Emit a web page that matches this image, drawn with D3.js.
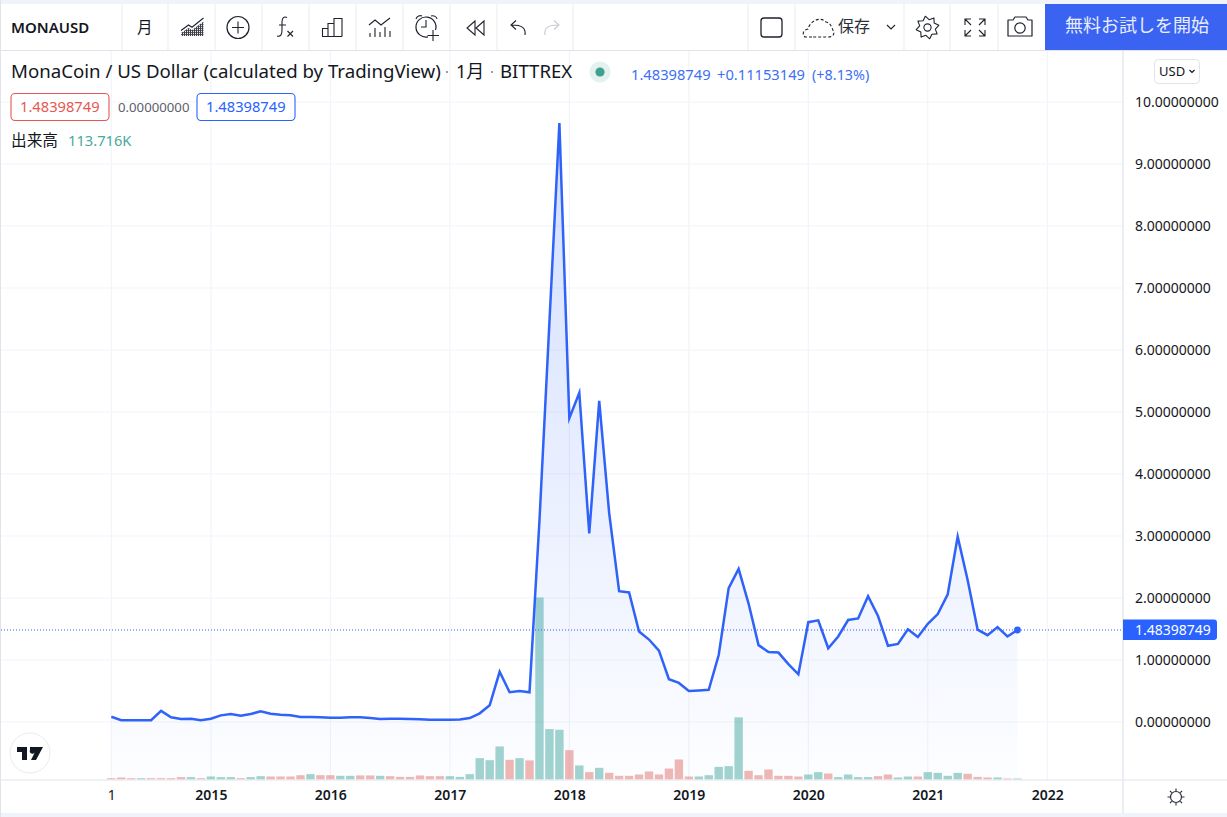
<!DOCTYPE html>
<html>
<head>
<meta charset="utf-8">
<style>
  html, body { margin: 0; padding: 0; background: #fff; overflow: hidden; }
  svg { display: block; }
  text { font-family: "Noto Sans", "Noto Sans CJK JP", sans-serif; }
</style>
<script src="https://cdnjs.cloudflare.com/ajax/libs/d3/7.8.5/d3.min.js"></script>
</head>
<body>
<div id="chart"></div>
<script>
// monthly closes, Mar 2014 .. Oct 2021
const closes = [
  0.085, 0.03, 0.03, 0.03, 0.03, 0.18, 0.075, 0.048, 0.053, 0.03,
  0.053, 0.107, 0.129, 0.10, 0.129, 0.172, 0.134, 0.118, 0.107, 0.08,
  0.08, 0.075, 0.07, 0.07, 0.075, 0.075, 0.065, 0.05, 0.053, 0.053,
  0.05, 0.043, 0.038, 0.036, 0.035, 0.04, 0.064, 0.14, 0.27, 0.81,
  0.48, 0.50, 0.48, 3.25, 6.45, 9.66, 4.90, 5.31, 3.04, 5.18,
  3.37, 2.11, 2.09, 1.46, 1.33, 1.15, 0.69, 0.63, 0.50, 0.51,
  0.52, 1.08, 2.16, 2.47, 1.91, 1.24, 1.13, 1.12, 0.935, 0.77,
  1.61, 1.64, 1.19, 1.38, 1.645, 1.67, 2.03, 1.71, 1.23, 1.26,
  1.495, 1.37, 1.585, 1.74, 2.06, 2.99, 2.29, 1.49, 1.40, 1.53,
  1.38, 1.48398749
];

// volume in thousands
const volumes = [
  150, 230, 150, 150, 150, 150, 150, 270, 270, 150,
  340, 270, 270, 150, 270, 380, 340, 340, 340, 490,
  610, 490, 490, 420, 420, 460, 460, 420, 380, 300,
  300, 460, 380, 380, 380, 300, 610, 2430, 2200, 3760,
  2240, 2430, 2170, 20710, 5740, 5660, 3340, 1600, 840, 1330,
  760, 420, 420, 570, 910, 570, 1250, 2280, 340, 340,
  490, 1440, 1520, 7070, 990, 490, 1140, 420, 420, 340,
  570, 840, 680, 270, 570, 270, 270, 380, 570, 230,
  340, 340, 840, 760, 420, 760, 650, 300, 230, 230,
  114, 114
];

// 1 = green bar, 0 = red bar
const volumeUp = [
  0, 0, 0, 1, 0, 0, 0, 0, 1, 0,
  1, 1, 1, 0, 1, 1, 0, 0, 0, 0,
  1, 0, 0, 1, 1, 0, 0, 1, 0, 0,
  0, 0, 0, 0, 1, 1, 1, 1, 1, 1,
  0, 1, 0, 1, 1, 1, 0, 1, 0, 1,
  0, 0, 0, 0, 0, 0, 0, 0, 0, 1,
  1, 1, 1, 1, 0, 0, 0, 0, 0, 0,
  1, 1, 0, 1, 1, 1, 1, 0, 0, 1,
  1, 0, 1, 1, 1, 1, 0, 0, 0, 1,
  0, 1
];

const priceTicks = [0, 1, 2, 3, 4, 5, 6, 7, 8, 9, 10];
const timeTicks = [0, 10, 22, 34, 46, 58, 70, 82, 94];
const timeLabels = ["1", "2015", "2016", "2017", "2018", "2019", "2020", "2021", "2022"];
const lastLabel = "1.48398749";

const width = 1227, height = 817;
const paneRight = 1123, paneTop = 51, paneBottom = 780;
const BLUE = "#2962ff", INK = "#131722", GRID = "#f2f4f9", RULE = "#e0e3eb";

const svg = d3.select("#chart").append("svg")
  .attr("width", width).attr("height", height)
  .attr("viewBox", `0 0 ${width} ${height}`);

const x = d3.scaleLinear().domain([0, 94]).range([111.3, 1047.3]);
const y = d3.scaleLinear().domain([0, 10]).range([722, 102]);
const yVol = d3.scaleLinear().domain([0, 20710]).range([779.5, 597.5]);

const defs = svg.append("defs");
const grad = defs.append("linearGradient").attr("id", "areaFill")
  .attr("gradientUnits", "userSpaceOnUse")
  .attr("x1", 0).attr("x2", 0).attr("y1", y(9.66)).attr("y2", paneBottom);
grad.append("stop").attr("offset", 0).attr("stop-color", BLUE).attr("stop-opacity", 0.21);
grad.append("stop").attr("offset", 1).attr("stop-color", BLUE).attr("stop-opacity", 0.01);
const hatch = defs.append("pattern").attr("id", "hatch").attr("patternUnits", "userSpaceOnUse")
  .attr("width", 2).attr("height", 2);
hatch.append("rect").attr("width", 1.1).attr("height", 2).attr("fill", "#3c3f48");
hatch.append("rect").attr("width", 2).attr("height", 0.8).attr("fill", "#3c3f48");

// page frame
svg.append("rect").attr("width", width).attr("height", height).attr("fill", "#fff");
svg.append("rect").attr("width", width).attr("height", 4).attr("fill", "#f0f3fa");
svg.append("rect").attr("y", 813).attr("width", width).attr("height", 4).attr("fill", "#f0f3fa");
svg.append("rect").attr("width", 1).attr("height", height).attr("fill", RULE);

// grid
const grid = svg.append("g");
grid.selectAll("line.h").data(priceTicks).join("line").attr("class", "h")
  .attr("x1", 1).attr("x2", paneRight)
  .attr("y1", d => y(d)).attr("y2", d => y(d))
  .attr("stroke", GRID).attr("stroke-width", 1.2);
grid.selectAll("line.v").data(timeTicks).join("line").attr("class", "v")
  .attr("y1", paneTop).attr("y2", paneBottom)
  .attr("x1", d => x(d)).attr("x2", d => x(d))
  .attr("stroke", GRID).attr("stroke-width", 1.2);

// volume
svg.append("g").selectAll("rect").data(volumes).join("rect")
  .attr("x", (d, i) => x(i) - 4.2)
  .attr("width", 8.4)
  .attr("y", d => yVol(d))
  .attr("height", d => yVol(0) - yVol(d))
  .attr("fill", (d, i) => volumeUp[i] ? "#2a9d90" : "#dc5a55")
  .attr("fill-opacity", 0.44);

// price
const area = d3.area().x((d, i) => x(i)).y0(paneBottom).y1(d => y(d));
const line = d3.line().x((d, i) => x(i)).y(d => y(d));
svg.append("path").datum(closes).attr("d", area).attr("fill", "url(#areaFill)");

const lastClose = closes[closes.length - 1];
svg.append("line")
  .attr("x1", 1).attr("x2", paneRight)
  .attr("y1", y(lastClose)).attr("y2", y(lastClose))
  .attr("stroke", BLUE).attr("stroke-width", 1).attr("stroke-dasharray", "1 2");

svg.append("path").datum(closes).attr("d", line)
  .attr("fill", "none").attr("stroke", "#2f62f8").attr("stroke-width", 2.5)
  .attr("stroke-linejoin", "miter").attr("stroke-miterlimit", 6);
svg.append("circle")
  .attr("cx", x(closes.length - 1)).attr("cy", y(lastClose)).attr("r", 3.4)
  .attr("fill", "#2f62f8");

// axes
const rightAxis = d3.axisRight(y).tickValues(priceTicks).tickSize(0).tickPadding(0)
  .tickFormat(d => d.toFixed(8));
const gRight = svg.append("g").attr("transform", "translate(1135,0)").call(rightAxis);
gRight.select(".domain").remove();
gRight.selectAll("text").attr("font-size", 14).attr("fill", INK).attr("dy", "0.34em")
  .style("font-family", '"Noto Sans", sans-serif');

const bottomAxis = d3.axisBottom(x).tickValues(timeTicks).tickSize(0).tickPadding(0)
  .tickFormat((d, i) => timeLabels[i]);
const gBottom = svg.append("g").attr("transform", "translate(0,790)").call(bottomAxis);
gBottom.select(".domain").remove();
gBottom.selectAll("text").attr("font-size", 14).attr("fill", INK).attr("font-weight", 600)
  .attr("dy", "0.72em")
  .style("font-family", '"Noto Sans", sans-serif');
gBottom.selectAll("g.tick").filter((d, i) => i === 0).select("text").attr("font-weight", 400);

svg.append("line").attr("x1", 0).attr("x2", width).attr("y1", 780).attr("y2", 780)
  .attr("stroke", RULE).attr("stroke-width", 1.2);
svg.append("line").attr("x1", 1123).attr("x2", 1123).attr("y1", 51).attr("y2", 813)
  .attr("stroke", RULE).attr("stroke-width", 1.2);

// last value tag
svg.append("path").attr("d", "M1123,619.5H1214a3,3 0 0 1 3,3V637a3,3 0 0 1 -3,3H1123Z").attr("fill", BLUE);
svg.append("text").attr("x", 1135).attr("y", 630).attr("dy", "0.35em")
  .attr("font-size", 14).attr("fill", "#fff").text(lastLabel);

// legend
function label(tx, ty, str, size, fill) {
  return svg.append("text").attr("x", tx).attr("y", ty).attr("font-size", size).attr("fill", fill).text(str);
}
label(11, 78, "MonaCoin / US Dollar (calculated by TradingView)", 18.65, INK);
label(456, 78, "1月", 18, INK);
label(500, 78, "BITTREX", 18.6, INK);
svg.append("circle").attr("cx", 447).attr("cy", 72).attr("r", 1).attr("fill", "#787b86");
svg.append("circle").attr("cx", 492).attr("cy", 72).attr("r", 1).attr("fill", "#787b86");
svg.append("circle").attr("cx", 600).attr("cy", 72).attr("r", 10.5).attr("fill", "#e4f1ef");
svg.append("circle").attr("cx", 600).attr("cy", 72).attr("r", 4.6).attr("fill", "#3f9f90");
label(631, 80, "1.48398749", 14.7, "#3d6ff5");
label(717, 80, "+0.11153149", 14.7, "#3d6ff5");
label(812, 80, "(+8.13%)", 14.4, "#3d6ff5");

svg.append("rect").attr("x", 11).attr("y", 93.5).attr("width", 98).attr("height", 27).attr("rx", 4)
  .attr("fill", "#fff").attr("stroke", "#e8574f").attr("stroke-width", 1.1);
label(20, 112, "1.48398749", 14.7, "#e8574f");
label(118, 112, "0.00000000", 13.2, "#5d606b");
svg.append("rect").attr("x", 197).attr("y", 93.5).attr("width", 98).attr("height", 27).attr("rx", 4)
  .attr("fill", "#fff").attr("stroke", BLUE).attr("stroke-width", 1.1);
label(206, 112, "1.48398749", 14.7, BLUE);
label(11, 146, "出来高", 15.7, INK);
label(68, 146, "113.716K", 14.7, "#4aa99c");

// USD button
svg.append("rect").attr("x", 1154.5).attr("y", 59.5).attr("width", 45).attr("height", 24).attr("rx", 4)
  .attr("fill", "#fff").attr("stroke", RULE);
label(1159, 76, "USD", 13, INK);
svg.append("path").attr("d", "M1189.5,70l2.5,2.5l2.5,-2.5").attr("fill", "none").attr("stroke", INK).attr("stroke-width", 1.2);

// toolbar
svg.append("line").attr("x1", 0).attr("x2", width).attr("y1", 50.5).attr("y2", 50.5)
  .attr("stroke", RULE).attr("stroke-width", 1.2);
const separators = [122, 168, 215, 262, 309, 356, 403, 450, 497, 573, 748, 795, 904, 950, 998];
svg.append("g").selectAll("line").data(separators).join("line")
  .attr("x1", d => d).attr("x2", d => d).attr("y1", 4).attr("y2", 50)
  .attr("stroke", "#eceef4").attr("stroke-width", 1.2);

svg.append("text").attr("x", 11).attr("y", 33).attr("font-size", 15).attr("font-weight", 600)
  .attr("fill", INK).text("MONAUSD");
label(137, 33, "月", 15.5, INK);
label(838, 32, "保存", 16, "#2a2e39");
svg.append("rect").attr("x", 1045).attr("y", 4).attr("width", 182).attr("height", 46).attr("fill", "#3a63f2");
label(1065, 32, "無料お試しを開始", 18, "#e8edff");

function icon(d, dash, color) {
  svg.append("path").attr("d", d).attr("fill", "none").attr("stroke", color || "#1e222d")
    .attr("stroke-width", 1.1).attr("stroke-dasharray", dash || null);
}
// area chart type
icon("M181,30.5L188.5,25L192,27.3L203.5,18");
svg.append("path").attr("d", "M181,36V33L188.5,28L192,30L203.5,21.5V36Z").attr("fill", "url(#hatch)");
// indicators etc
svg.append("circle").attr("cx", 238).attr("cy", 27.5).attr("r", 11).attr("fill", "none").attr("stroke", "#1e222d").attr("stroke-width", 1.2);
icon("M238,21.5V33.5M232,27.5H244");
icon("M277,36C281,37 282,34 282,30V22C282,18 284,16 287,17.5M279,25H286M287.5,31l5.5,5.5M293,31l-5.5,5.5");
icon("M322.5,36.5V28.5H328V36.5M328,36.5V23.5H334V36.5M334,36.5V18.5H342V36.5M322,36.5H342");
icon("M369,25L375,20L381,25L390,18M370,37V33M375,37V28M380,37V32M385,37V27M390,37V31");
// alert clock
svg.append("path").attr("d", "M435.5,30A10,10 0 1 0 428,36.8").attr("fill", "none").attr("stroke", "#1e222d").attr("stroke-width", 1.2);
icon("M426,20V27H421M416,19C417,16 420,15 422,16M431,16C434,15 437,17 437,19M433,30V41M427.5,35.5H439");
icon("M475,21L467,28L475,35ZM484,21L476,28L484,35Z");
icon("M525,35C526,28 522,25 512,25M516,20.5L511,25L516,29.5");
icon("M545,35C544,28 548,25 558,25M554,20.5L559,25L554,29.5", null, "#c8cad2");
// layout, save
svg.append("rect").attr("x", 761).attr("y", 18).attr("width", 21).attr("height", 19).attr("rx", 3)
  .attr("fill", "none").attr("stroke", "#1e222d").attr("stroke-width", 1.3);
icon("M812,37H806C802,37 802,30 808,29C810,21 820,16 826,22C832,23 832,30 834,32C834,36 831,37 828,37Z", "3 2");
icon("M887,25L891,29L895,25");
// settings gear
svg.append("circle").attr("cx", 927.5).attr("cy", 27.5).attr("r", 3.6).attr("fill", "none").attr("stroke", "#1e222d").attr("stroke-width", 1.1);
svg.append("path").attr("d", d3.range(16).map(i => {
    const r = i % 2 ? 8 : 11.5, a = i * Math.PI / 8 - Math.PI / 16;
    return (i ? "L" : "M") + (927.5 + r * Math.cos(a)).toFixed(1) + "," + (27.5 + r * Math.sin(a)).toFixed(1);
  }).join("") + "Z").attr("fill", "none").attr("stroke", "#1e222d").attr("stroke-width", 1.1).attr("stroke-linejoin", "round");
// fullscreen
icon("M965,25V19H971M965,19L971,25M985,25V19H979M985,19L979,25M965,30V36H971M965,36L971,30M985,30V36H979M985,36L979,30");
// camera
svg.append("path").attr("d", "M1013,20L1015,17H1026L1028,20H1032V36H1008V20Z").attr("fill", "none").attr("stroke", "#1e222d").attr("stroke-width", 1.2).attr("stroke-linejoin", "round");
svg.append("circle").attr("cx", 1020).attr("cy", 28).attr("r", 5.2).attr("fill", "none").attr("stroke", "#1e222d").attr("stroke-width", 1.2);

// logo and sun
svg.append("circle").attr("cx", 30).attr("cy", 753).attr("r", 20).attr("fill", "#fff").attr("stroke", "#e9ebf0").attr("stroke-width", 1);
svg.append("path").attr("d", "M17,747H27V760H22V752H17ZM30,747H43L36,760H31L35,752A2.5,2.5 0 0 1 30,750Z").attr("fill", "#131722");
svg.append("circle").attr("cx", 1176).attr("cy", 797).attr("r", 5.5).attr("fill", "none").attr("stroke", "#2a2e39").attr("stroke-width", 1.2);
icon("M1176,788.5V791M1176,803V805.5M1167.5,797H1170M1182,797H1184.5M1170,791L1171.7,792.7M1182,791L1180.3,792.7M1170,803L1171.7,801.3M1182,803L1180.3,801.3", null, "#2a2e39");
</script>
</body>
</html>
